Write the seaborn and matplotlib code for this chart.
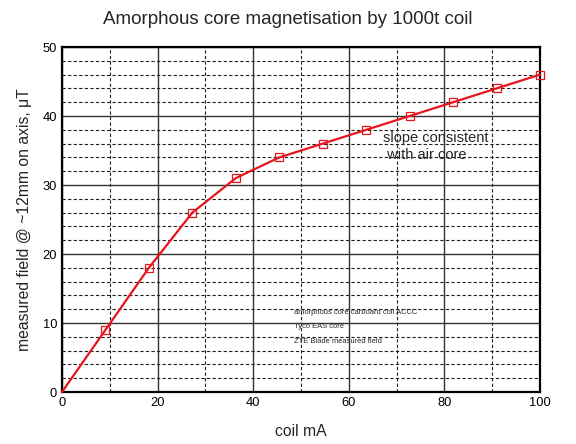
import pandas as pd
import seaborn as sns
import matplotlib.pyplot as plt
from matplotlib.lines import Line2D
from matplotlib.ticker import MultipleLocator

coil_ma = [0, 9.09, 18.18, 27.27, 36.36, 45.45, 54.55, 63.64, 72.73, 81.82, 90.91, 100]
field_ut = [0, 9, 18, 26, 31, 34, 36, 38, 40, 42, 44, 46]
legend_labels = ['amorphous core carboard coil ACCC', 'Tyco EAS core', 'ZTE Blade measured field']

df = pd.DataFrame({'coil mA': coil_ma, 'field': field_ut})

sns.set_theme(style="white")
plt.rcParams['font.family'] = ['Liberation Sans', 'DejaVu Sans']

fig = plt.figure(figsize=(5.76, 4.44), dpi=100)
ax = fig.add_axes([0.1076, 0.1171, 0.8299, 0.7770])

sns.lineplot(data=df, x='coil mA', y='field', ax=ax, color='#e8141c', lw=1.6,
             marker='s', markersize=6, markerfacecolor='none', markeredgecolor='#e8141c',
             markeredgewidth=0.9, markevery=slice(1, None), clip_on=False, zorder=5)

ax.set_xlim(0, 100)
ax.set_ylim(0, 50)
ax.xaxis.set_major_locator(MultipleLocator(20))
ax.xaxis.set_minor_locator(MultipleLocator(10))
ax.yaxis.set_major_locator(MultipleLocator(10))
ax.yaxis.set_minor_locator(MultipleLocator(2))
ax.grid(which='major', color='#333333', lw=1.0, ls='-')
ax.grid(which='minor', color='#222222', lw=0.8, ls=(0, (3, 2)))
ax.tick_params(which='both', length=0, labelsize=9.3, pad=3.5, colors='black')
for s in ax.spines.values():
    s.set_color('black')
    s.set_linewidth(1.6)

ax.set_xlabel('coil mA', fontsize=11.3, labelpad=11)
ax.set_ylabel('measured field @ ~12mm on axis, \u03bcT', fontsize=11.3, labelpad=8)
fig.suptitle('Amorphous core magnetisation by 1000t coil', fontsize=13.5, y=0.975)

ax.text(67.2, 37.9, 'slope consistent\n with air core', fontsize=10.5, va='top', ha='left',
        linespacing=1.3)

handles = [Line2D([], [], ls='none') for _ in legend_labels]
ax.legend(handles, legend_labels, loc='upper left', bbox_to_anchor=(0.472, 0.262),
          frameon=False, fontsize=5.4, handlelength=0, handletextpad=0, labelspacing=1.0)

plt.savefig('out.png', dpi=100)
